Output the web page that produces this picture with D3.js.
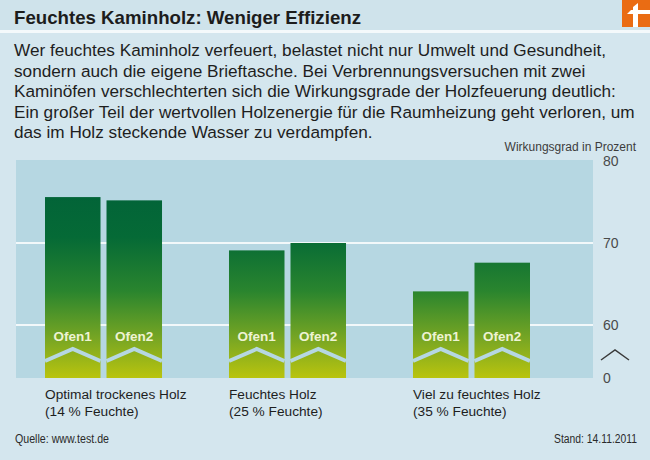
<!DOCTYPE html>
<html><head><meta charset="utf-8">
<script src="https://cdn.jsdelivr.net/npm/d3@7"></script>
<style>
html,body{margin:0;padding:0;background:#d4e6ee;}
svg{display:block;}
</style></head>
<body>
<svg id="chart" width="650" height="460"></svg>
<script>
const title = "Feuchtes Kaminholz: Weniger Effizienz";
const intro = [
  "Wer feuchtes Kaminholz verfeuert, belastet nicht nur Umwelt und Gesundheit,",
  "sondern auch die eigene Brieftasche. Bei Verbrennungsversuchen mit zwei",
  "Kaminöfen verschlechterten sich die Wirkungsgrade der Holzfeuerung deutlich:",
  "Ein großer Teil der wertvollen Holzenergie für die Raumheizung geht verloren, um",
  "das im Holz steckende Wasser zu verdampfen."
];
const categories = ["Optimal trockenes Holz", "Feuchtes Holz", "Viel zu feuchtes Holz"];
const subLabels = ["(14 % Feuchte)", "(25 % Feuchte)", "(35 % Feuchte)"];
const series = ["Ofen1", "Ofen2"];
const ofen1 = [75.6, 69.1, 64.1];
const ofen2 = [75.2, 70.0, 67.6];
const tickValues = [0, 60, 70, 80];
const tickLabels = ["0", "60", "70", "80"];
const gridValues = [60, 70];
const axisTitle = "Wirkungsgrad in Prozent";
const source = "Quelle: www.test.de";
const stand = "Stand: 14.11.2011";

const svg = d3.select("#chart");
const W = 650, H = 460;
const plot = {x0: 16, x1: 593, y0: 160, y1: 378};
const sans = "'Liberation Sans', Arial, sans-serif";

// background
svg.append("rect").attr("width", W).attr("height", H).attr("fill", "#d4e6ee");
svg.append("rect").attr("width", W).attr("height", 30).attr("fill", "#cfe3eb");
svg.append("rect").attr("y", 30).attr("width", W).attr("height", 3).attr("fill", "#f4f9fb");

// logo
const logo = svg.append("g");
logo.append("rect").attr("x", 622).attr("y", 0).attr("width", 28).attr("height", 27).attr("fill", "#ea6c13");
logo.append("path").attr("d", "M633,27 L633,14 L627,14 L631,10 L633,10 L633,7 L638,3 L638,10 L650,10 L650,14 L638,14 L638,27 Z").attr("fill", "#ffffff");

// title (condensed look)
svg.append("text").attr("x", 14).attr("y", 24)
  .attr("font-family", sans).attr("font-weight", "bold").attr("font-size", 19)
  .attr("textLength", 347).attr("lengthAdjust", "spacingAndGlyphs")
  .attr("fill", "#1c1c1c").text(title);

// intro text
svg.append("g").selectAll("text").data(intro).join("text")
  .attr("x", 14).attr("y", (d, i) => 56 + i * 20.5)
  .attr("font-family", sans)
  .attr("font-size", 17.2).attr("fill", "#1e1e1e").text(d => d);

// scales
const x = d3.scaleBand().domain(categories).range([45, 530]).paddingInner(0.364).paddingOuter(0);
const xi = d3.scaleBand().domain(series).range([0, x.bandwidth()]).paddingInner(0.0976).paddingOuter(0);
const y = d3.scaleLinear().domain([0, 60, 80]).range([plot.y1, 325, 161]);

// plot bg
svg.append("rect").attr("x", plot.x0).attr("y", plot.y0)
  .attr("width", plot.x1 - plot.x0).attr("height", plot.y1 - plot.y0).attr("fill", "#b6d7e2");

// grid
svg.append("g").selectAll("line").data(gridValues).join("line")
  .attr("x1", plot.x0).attr("x2", plot.x1)
  .attr("y1", d => y(d)).attr("y2", d => y(d))
  .attr("stroke", "#f2f8fa").attr("stroke-width", 2);

// gradient
const defs = svg.append("defs");
const grad = defs.append("linearGradient").attr("id", "barGrad")
  .attr("gradientUnits", "userSpaceOnUse").attr("x1", 0).attr("x2", 0)
  .attr("y1", y(80)).attr("y2", y(0));
[[0, "#005f3a"], [0.35, "#056a36"], [0.6, "#2a852e"], [0.82, "#78a623"], [1, "#b9c40e"]]
  .forEach(([o, c]) => grad.append("stop").attr("offset", o).attr("stop-color", c));

// bars
const data = categories.map((c, i) => ({cat: c, vals: [ofen1[i], ofen2[i]]}));
const groups = svg.append("g").selectAll("g").data(data).join("g")
  .attr("transform", d => `translate(${x(d.cat)},0)`);
const bars = groups.selectAll("g").data(d => d.vals.map((v, j) => ({s: series[j], v}))).join("g")
  .attr("transform", d => `translate(${xi(d.s)},0)`);
const bw = xi.bandwidth();
bars.append("rect").attr("x", 0).attr("width", bw)
  .attr("y", d => y(d.v)).attr("height", d => y(0) - y(d.v))
  .attr("fill", "url(#barGrad)");
bars.append("path")
  .attr("d", `M0,${y(0) - 17} L${bw / 2},${y(0) - 29} L${bw},${y(0) - 17}`)
  .attr("fill", "none").attr("stroke", "#b6d7e2").attr("stroke-width", 4);
bars.append("text").attr("x", bw / 2).attr("y", y(0) - 37.5)
  .attr("text-anchor", "middle")
  .attr("font-family", sans)
  .attr("font-weight", "bold").attr("font-size", 13.5).attr("fill", "#eef3d2")
  .text(d => d.s);

// category labels
const labels = svg.append("g").selectAll("text").data(categories).join("text")
  .attr("x", d => x(d)).attr("y", 399)
  .attr("font-family", sans)
  .attr("font-size", 13.7).attr("fill", "#1e1e1e");
labels.append("tspan").text(d => d);
labels.append("tspan").attr("x", d => x(d)).attr("dy", 17).text((d, i) => subLabels[i]);

// axis
const axis = d3.axisRight(y).tickValues(tickValues).tickSize(0).tickPadding(0)
  .tickFormat((d, i) => tickLabels[i]);
const ag = svg.append("g").attr("transform", `translate(603,0)`).call(axis);
ag.select(".domain").remove();
ag.selectAll("text").attr("font-family", sans)
  .attr("font-size", 14).attr("fill", "#4a4a4a").attr("dy", "0.35em");
// axis break mark
svg.append("path").attr("d", `M601,${y(0) - 18} L615,${y(0) - 28} L629,${y(0) - 18}`)
  .attr("fill", "none").attr("stroke", "#3a3a3a").attr("stroke-width", 1.5);

svg.append("text").attr("x", 636).attr("y", 151).attr("text-anchor", "end")
  .attr("font-family", sans)
  .attr("font-size", 12).attr("fill", "#3c3c3c").text(axisTitle);

// footer (condensed look)
svg.append("text").attr("x", 15).attr("y", 443).attr("font-family", sans)
  .attr("font-size", 12).attr("textLength", 94).attr("lengthAdjust", "spacingAndGlyphs")
  .attr("fill", "#2a2a2a").text(source);
svg.append("text").attr("x", 554).attr("y", 443).attr("font-family", sans)
  .attr("font-size", 12).attr("textLength", 83).attr("lengthAdjust", "spacingAndGlyphs")
  .attr("fill", "#2a2a2a").text(stand);
</script>
</body></html>
